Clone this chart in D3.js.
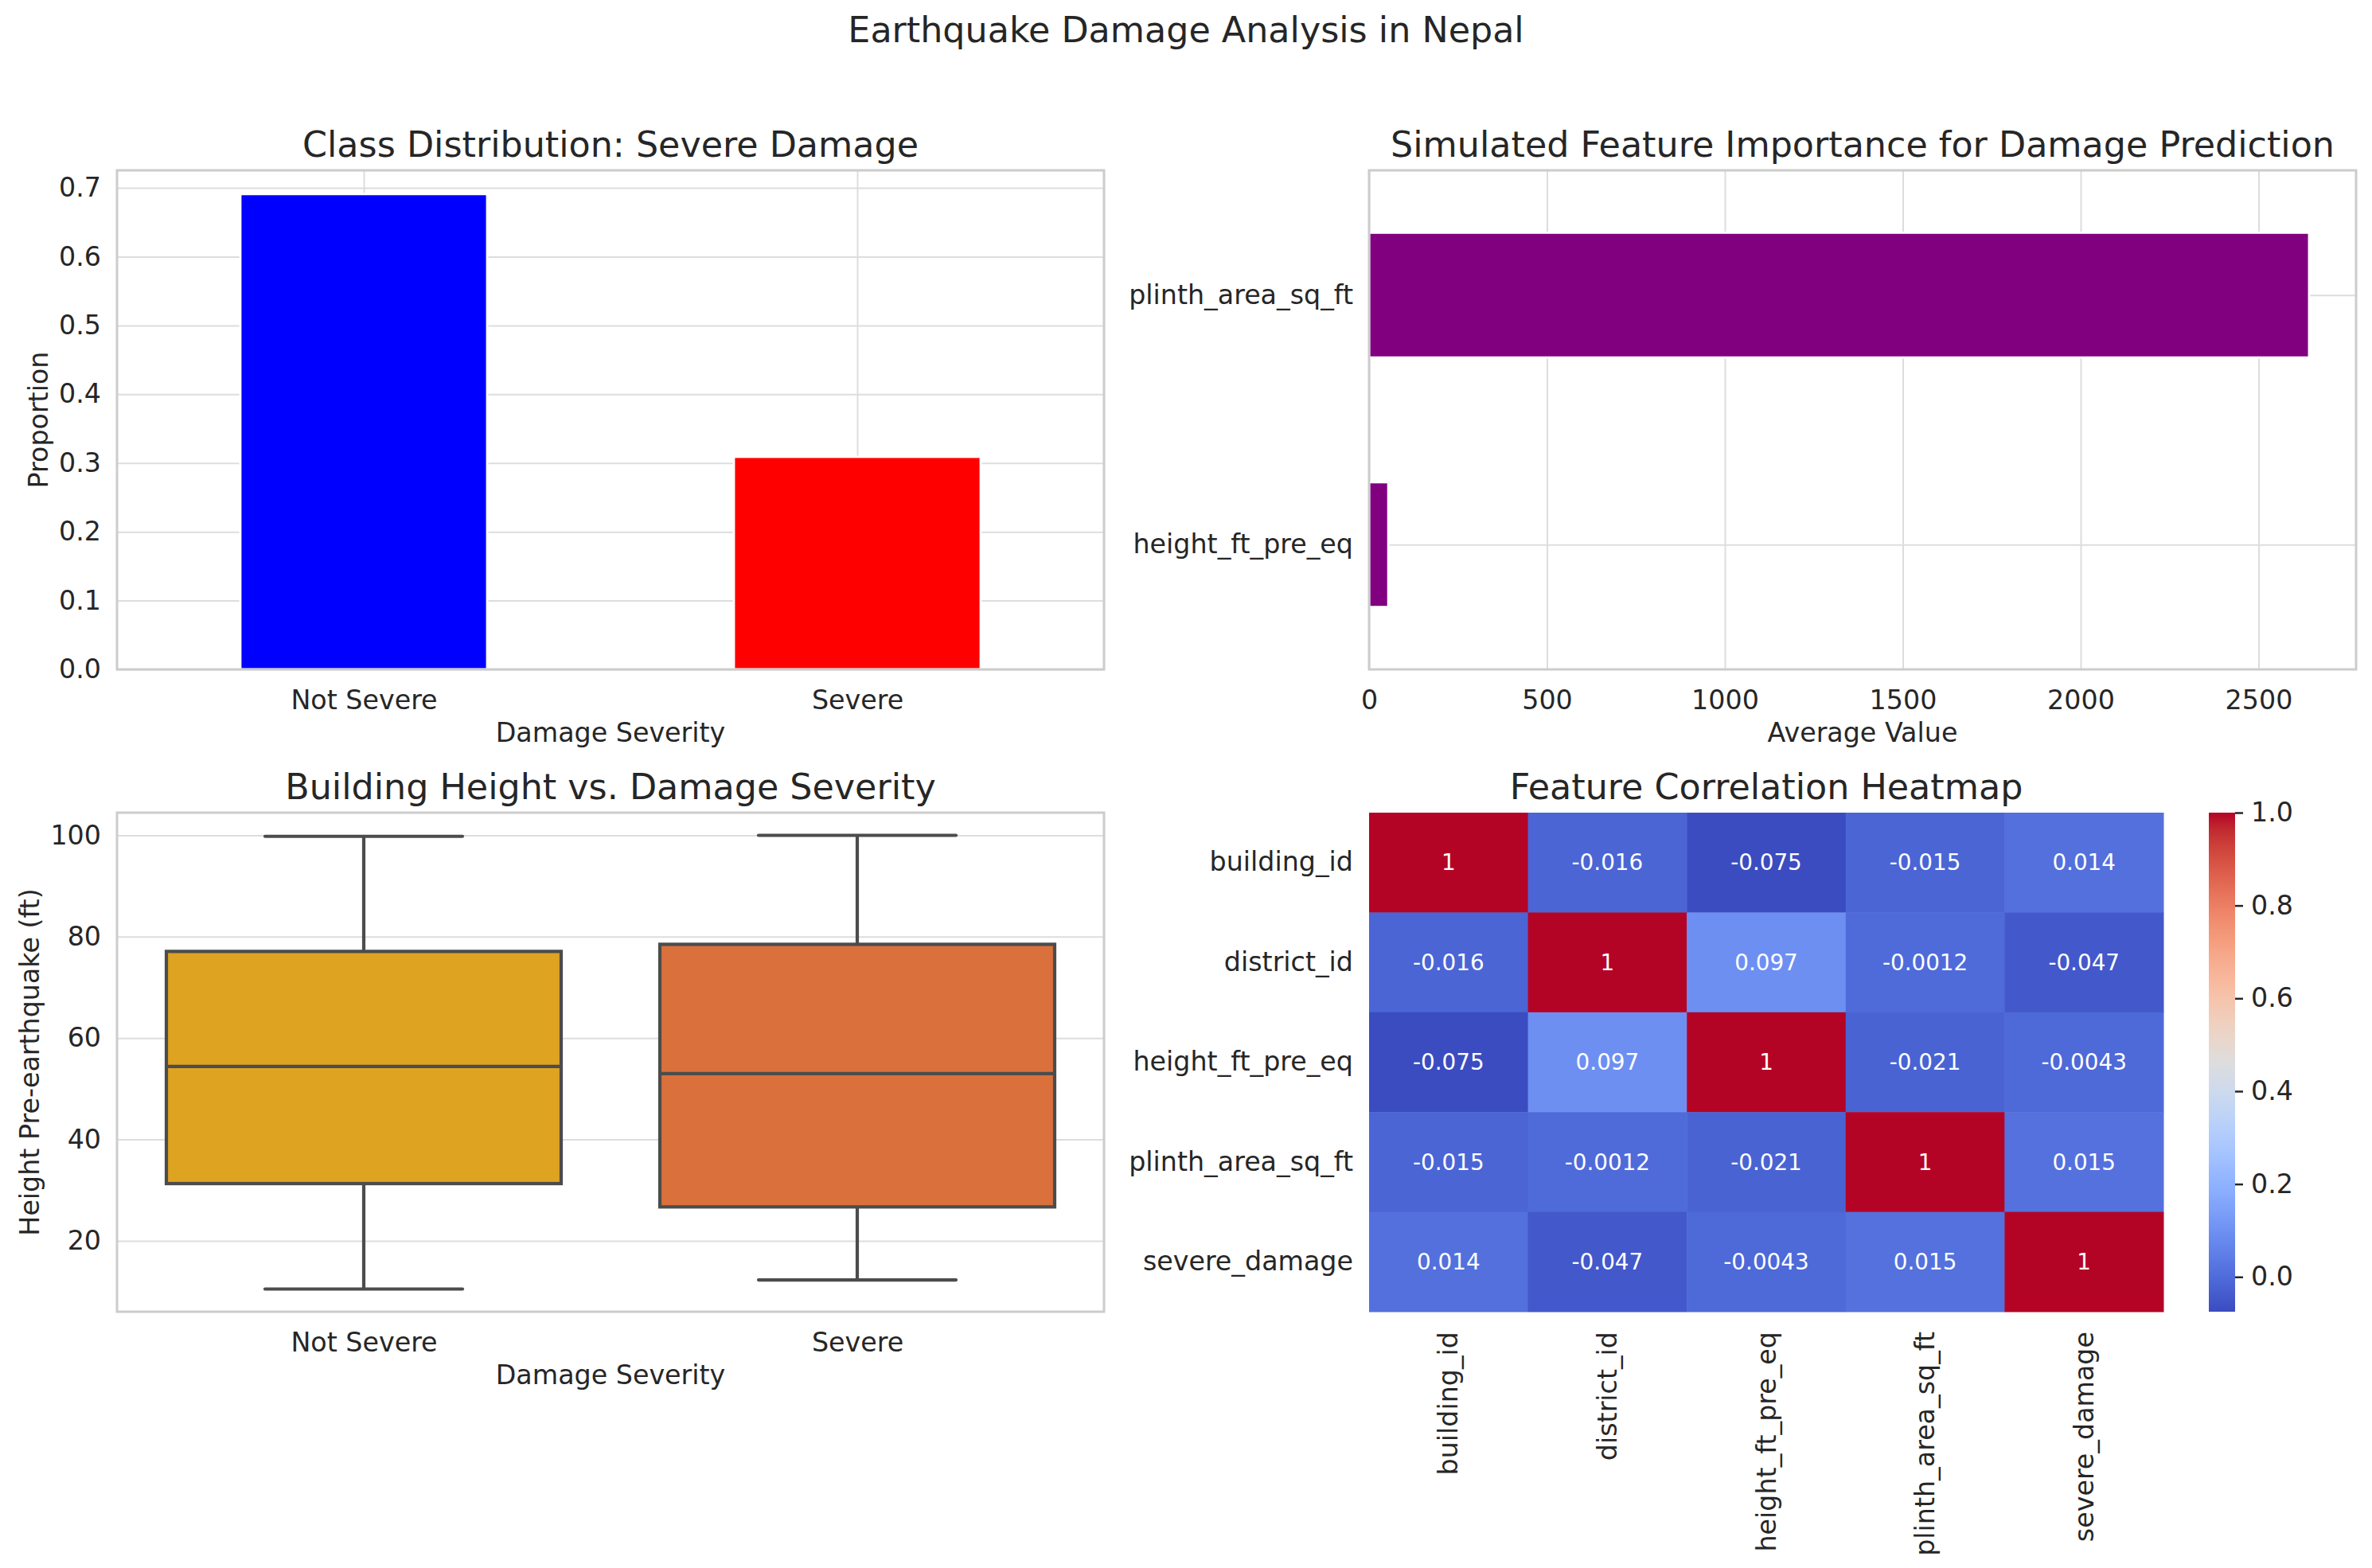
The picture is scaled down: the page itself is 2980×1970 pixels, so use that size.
<!DOCTYPE html>
<html>
<head>
<meta charset="utf-8">
<script src="https://cdn.jsdelivr.net/npm/d3@7"></script>
<style>
    body { margin: 0; background: #fff; }
    svg { display: block; font-family: 'DejaVu Sans', sans-serif; }
</style>
</head>
<body>
<div id="chart"></div>
<script>
'use strict';

// class distribution
var classLabels = ['Not Severe', 'Severe'];
var classProportions = [0.691, 0.309];
var classColors = ['#0000ff', '#ff0000'];
var proportionTicks = [0, 0.1, 0.2, 0.3, 0.4, 0.5, 0.6, 0.7];

// feature "importance" (average values)
var featureNames = ['plinth_area_sq_ft', 'height_ft_pre_eq'];
var featureAverages = [2642, 54];
var averageTicks = [0, 500, 1000, 1500, 2000, 2500];

// building height box plot
var boxGroups = ['Not Severe', 'Severe'];
var boxWhiskerLow = [10.5, 12.3];
var boxQ1 = [31.3, 26.7];
var boxMedian = [54.4, 53.0];
var boxQ3 = [77.1, 78.5];
var boxWhiskerHigh = [99.8, 100.0];
var boxColors = ['#dea321', '#da713c'];
var heightTicks = [20, 40, 60, 80, 100];

// correlation heatmap
var corrLabels = ['building_id', 'district_id', 'height_ft_pre_eq', 'plinth_area_sq_ft', 'severe_damage'];
var corrMatrix = [
    [1, -0.016, -0.075, -0.015, 0.014],
    [-0.016, 1, 0.097, -0.0012, -0.047],
    [-0.075, 0.097, 1, -0.021, -0.0043],
    [-0.015, -0.0012, -0.021, 1, 0.015],
    [0.014, -0.047, -0.0043, 0.015, 1]
];
var colorbarTicks = [0, 0.2, 0.4, 0.6, 0.8, 1.0];

// matplotlib coolwarm (Moreland) control points
var coolwarm = d3.piecewise(d3.interpolateRgb, [
    '#3b4cc0', '#445acc', '#4d68d7', '#5775e1', '#6282ea', '#6c8ef1', '#779af7', '#82a5fb',
    '#8db0fe', '#98b9ff', '#a3c2ff', '#aec9fd', '#b8d0f9', '#c2d5f4', '#ccd9ee', '#d5dbe6',
    '#dddddd', '#e5d8d1', '#ecd3c5', '#f1ccb8', '#f5c4ac', '#f7bba0', '#f7b194', '#f7a689',
    '#f49a7b', '#f18d70', '#ec7f63', '#e57058', '#de604d', '#d55042', '#cb3e38', '#c0282f',
    '#b40426'
]);

var TEXT = '#262626';
var EDGE = '#cccccc';
var GRID = '#dddddd';
var tickFont = 33.3;
var titleFont = 44.4;

var locale = d3.formatLocale({decimal: '.', thousands: ',', grouping: [3], currency: ['$', ''], minus: '-'});

var svg = d3.select('#chart').append('svg')
    .attr('width', 2980)
    .attr('height', 1970);

svg.append('text')
    .attr('x', 1490)
    .attr('y', 53)
    .attr('text-anchor', 'middle')
    .attr('font-size', titleFont)
    .attr('fill', TEXT)
    .text('Earthquake Damage Analysis in Nepal');

function panel(left, top, width, height) {
    var g = svg.append('g').attr('transform', 'translate(' + left + ',' + top + ')');
    g.w = width;
    g.h = height;
    return g;
}

function cleanAxis(sel) {
    sel.attr('font-family', null).attr('font-size', null);
    sel.select('.domain').remove();
    sel.selectAll('text').attr('font-size', tickFont).attr('fill', TEXT);
}

function gridAxis(sel, axis) {
    sel.call(axis);
    sel.select('.domain').remove();
    sel.selectAll('text').remove();
    sel.selectAll('line').attr('stroke', GRID).attr('stroke-width', 2);
}

function frame(g) {
    g.append('rect')
        .attr('width', g.w)
        .attr('height', g.h)
        .attr('fill', 'none')
        .attr('stroke', EDGE)
        .attr('stroke-width', 3);
}

function title(g, txt) {
    g.append('text')
        .attr('x', g.w / 2)
        .attr('y', -17)
        .attr('text-anchor', 'middle')
        .attr('font-size', titleFont)
        .attr('fill', TEXT)
        .text(txt);
}

function xLabel(g, txt) {
    g.append('text')
        .attr('x', g.w / 2)
        .attr('y', g.h + 91)
        .attr('text-anchor', 'middle')
        .attr('font-size', tickFont)
        .attr('fill', TEXT)
        .text(txt);
}

function yLabel(g, txt, dx) {
    g.append('text')
        .attr('transform', 'translate(' + dx + ',' + (g.h / 2) + ') rotate(-90)')
        .attr('text-anchor', 'middle')
        .attr('font-size', tickFont)
        .attr('fill', TEXT)
        .text(txt);
}

// ---- top left: class distribution ----
(function() {
    var g = panel(147, 214, 1240, 627);
    var x = d3.scalePoint().domain(classLabels).range([0, g.w]).padding(0.5);
    var y = d3.scaleLinear().domain([0, d3.max(classProportions) * 1.05]).range([g.h, 0]);

    gridAxis(g.append('g'), d3.axisLeft(y).tickValues(proportionTicks).tickSize(-g.w));
    gridAxis(g.append('g').attr('transform', 'translate(0,' + g.h + ')'),
        d3.axisBottom(x).tickSize(-g.h));

    var barW = x.step() * 0.5;
    g.selectAll('.bar')
        .data(classLabels)
        .enter()
        .append('rect')
        .attr('x', function(d) { return x(d) - barW / 2; })
        .attr('y', function(d, i) { return y(classProportions[i]); })
        .attr('width', barW)
        .attr('height', function(d, i) { return g.h - y(classProportions[i]); })
        .attr('fill', function(d, i) { return classColors[i]; })
        .attr('stroke', '#fff')
        .attr('stroke-width', 2.8);

    frame(g);
    g.append('g')
        .call(d3.axisLeft(y).tickValues(proportionTicks).tickFormat(locale.format('.1f')).tickSize(0).tickPadding(20))
        .call(cleanAxis);
    g.append('g')
        .attr('transform', 'translate(0,' + g.h + ')')
        .call(d3.axisBottom(x).tickSize(0).tickPadding(26))
        .call(cleanAxis);

    title(g, 'Class Distribution: Severe Damage');
    xLabel(g, 'Damage Severity');
    yLabel(g, 'Proportion', -87);
})();

// ---- top right: feature averages ----
(function() {
    var g = panel(1720, 214, 1240, 627);
    var x = d3.scaleLinear().domain([0, d3.max(featureAverages) * 1.05]).range([0, g.w]);
    var y = d3.scalePoint().domain(featureNames).range([0, g.h]).padding(0.5);

    gridAxis(g.append('g').attr('transform', 'translate(0,' + g.h + ')'),
        d3.axisBottom(x).tickValues(averageTicks).tickSize(-g.h));
    gridAxis(g.append('g'), d3.axisLeft(y).tickSize(-g.w));

    var barH = y.step() * 0.5;
    g.selectAll('.bar')
        .data(featureNames)
        .enter()
        .append('rect')
        .attr('x', x(0))
        .attr('y', function(d) { return y(d) - barH / 2; })
        .attr('width', function(d, i) { return x(featureAverages[i]) - x(0); })
        .attr('height', barH)
        .attr('fill', '#800080')
        .attr('stroke', '#fff')
        .attr('stroke-width', 2.8);

    frame(g);
    g.append('g')
        .call(d3.axisLeft(y).tickSize(0).tickPadding(20))
        .call(cleanAxis);
    g.append('g')
        .attr('transform', 'translate(0,' + g.h + ')')
        .call(d3.axisBottom(x).tickValues(averageTicks).tickFormat(locale.format('d')).tickSize(0).tickPadding(26))
        .call(cleanAxis);

    title(g, 'Simulated Feature Importance for Damage Prediction');
    xLabel(g, 'Average Value');
})();

// ---- bottom left: box plot ----
(function() {
    var g = panel(147, 1021, 1240, 627);
    var x = d3.scalePoint().domain(boxGroups).range([0, g.w]).padding(0.5);
    var lo = d3.min(boxWhiskerLow);
    var hi = d3.max(boxWhiskerHigh);
    var pad = (hi - lo) * 0.05;
    var y = d3.scaleLinear().domain([lo - pad, hi + pad]).range([g.h, 0]);

    gridAxis(g.append('g'), d3.axisLeft(y).tickValues(heightTicks).tickSize(-g.w));

    var boxW = x.step() * 0.8;
    var capW = boxW / 2;
    var LINE = '#4c4c4c';
    var lw = 4.2;

    var groups = g.selectAll('.box')
        .data(boxGroups)
        .enter()
        .append('g')
        .attr('transform', function(d) { return 'translate(' + x(d) + ',0)'; });

    // whiskers
    groups.append('line')
        .attr('y1', function(d, i) { return y(boxQ3[i]); })
        .attr('y2', function(d, i) { return y(boxWhiskerHigh[i]); })
        .attr('stroke', LINE).attr('stroke-width', lw);
    groups.append('line')
        .attr('y1', function(d, i) { return y(boxQ1[i]); })
        .attr('y2', function(d, i) { return y(boxWhiskerLow[i]); })
        .attr('stroke', LINE).attr('stroke-width', lw);
    groups.append('line')
        .attr('x1', -capW / 2).attr('x2', capW / 2)
        .attr('y1', function(d, i) { return y(boxWhiskerHigh[i]); })
        .attr('y2', function(d, i) { return y(boxWhiskerHigh[i]); })
        .attr('stroke', LINE).attr('stroke-width', lw).attr('stroke-linecap', 'round');
    groups.append('line')
        .attr('x1', -capW / 2).attr('x2', capW / 2)
        .attr('y1', function(d, i) { return y(boxWhiskerLow[i]); })
        .attr('y2', function(d, i) { return y(boxWhiskerLow[i]); })
        .attr('stroke', LINE).attr('stroke-width', lw).attr('stroke-linecap', 'round');

    groups.append('rect')
        .attr('x', -boxW / 2)
        .attr('width', boxW)
        .attr('y', function(d, i) { return y(boxQ3[i]); })
        .attr('height', function(d, i) { return y(boxQ1[i]) - y(boxQ3[i]); })
        .attr('fill', function(d, i) { return boxColors[i]; })
        .attr('stroke', LINE)
        .attr('stroke-width', lw);
    groups.append('line')
        .attr('x1', -boxW / 2).attr('x2', boxW / 2)
        .attr('y1', function(d, i) { return y(boxMedian[i]); })
        .attr('y2', function(d, i) { return y(boxMedian[i]); })
        .attr('stroke', LINE).attr('stroke-width', lw);

    frame(g);
    g.append('g')
        .call(d3.axisLeft(y).tickValues(heightTicks).tickFormat(locale.format('d')).tickSize(0).tickPadding(20))
        .call(cleanAxis);
    g.append('g')
        .attr('transform', 'translate(0,' + g.h + ')')
        .call(d3.axisBottom(x).tickSize(0).tickPadding(26))
        .call(cleanAxis);

    title(g, 'Building Height vs. Damage Severity');
    xLabel(g, 'Damage Severity');
    yLabel(g, 'Height Pre-earthquake (ft)', -98);
})();

// ---- bottom right: correlation heatmap ----
(function() {
    var g = panel(1720, 1021, 998, 627);
    var x = d3.scaleBand().domain(corrLabels).range([0, g.w]);
    var y = d3.scaleBand().domain(corrLabels).range([0, g.h]);
    var flat = d3.merge(corrMatrix);
    var vmin = d3.min(flat);
    var vmax = d3.max(flat);
    var norm = d3.scaleLinear().domain([vmin, vmax]).range([0, 1]);
    var fmt = locale.format('.2~g');

    var cells = [];
    corrMatrix.forEach(function(row, r) {
        row.forEach(function(v, c) {
            cells.push({row: corrLabels[r], col: corrLabels[c], value: v});
        });
    });

    g.selectAll('.cell')
        .data(cells)
        .enter()
        .append('rect')
        .attr('x', function(d) { return x(d.col); })
        .attr('y', function(d) { return y(d.row); })
        .attr('width', x.bandwidth() + 0.5)
        .attr('height', y.bandwidth() + 0.5)
        .attr('fill', function(d) { return coolwarm(norm(d.value)); });

    g.selectAll('.annot')
        .data(cells)
        .enter()
        .append('text')
        .attr('x', function(d) { return x(d.col) + x.bandwidth() / 2; })
        .attr('y', function(d) { return y(d.row) + y.bandwidth() / 2; })
        .attr('dy', '0.35em')
        .attr('text-anchor', 'middle')
        .attr('font-size', 27.8)
        .attr('fill', '#ffffff')
        .text(function(d) { return fmt(d.value); });

    g.append('g')
        .call(d3.axisLeft(y).tickSize(0).tickPadding(20))
        .call(cleanAxis);
    g.append('g')
        .attr('transform', 'translate(0,' + g.h + ')')
        .call(d3.axisBottom(x).tickSize(0))
        .call(cleanAxis)
        .selectAll('text')
            .attr('transform', 'rotate(-90)')
            .attr('text-anchor', 'end')
            .attr('x', -25)
            .attr('y', 0)
            .attr('dy', '0.35em');

    title(g, 'Feature Correlation Heatmap');

    // colorbar
    var cbLeft = 2775 - 1720;
    var cbW = 33;
    var cbY = d3.scaleLinear().domain([vmin, vmax]).range([g.h, 0]);
    var grad = svg.append('defs').append('linearGradient')
        .attr('id', 'cbGrad')
        .attr('x1', 0).attr('y1', 1)
        .attr('x2', 0).attr('y2', 0);
    d3.range(0, 1.0001, 1 / 64).forEach(function(t) {
        grad.append('stop').attr('offset', t).attr('stop-color', coolwarm(t));
    });
    var cb = g.append('g').attr('transform', 'translate(' + cbLeft + ',0)');
    cb.append('rect')
        .attr('width', cbW)
        .attr('height', g.h)
        .attr('fill', 'url(#cbGrad)');
    cb.append('g')
        .attr('transform', 'translate(' + cbW + ',0)')
        .call(d3.axisRight(cbY).tickValues(colorbarTicks).tickFormat(locale.format('.1f')).tickSize(10).tickPadding(10))
        .call(cleanAxis)
        .selectAll('line')
            .attr('stroke', TEXT)
            .attr('stroke-width', 2.5);
})();
</script>
</body>
</html>
